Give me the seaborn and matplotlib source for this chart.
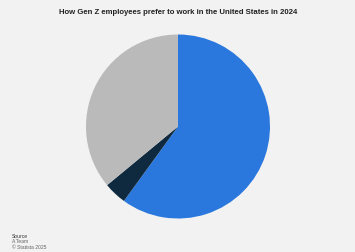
import matplotlib
matplotlib.use("Agg")
import matplotlib.pyplot as plt
import seaborn as sns

# Data
categories = ["Hybrid", "Fully remote", "Fully on-site"]
shares = [60, 4, 36]
colors = ["#2a77dd", "#0f2a3f", "#bababa"]

title = "How Gen Z employees prefer to work in the United States in 2024"
source_lines = ["Source", "A.Team", "© Statista 2025"]

sns.set_theme(style="white")
plt.rcParams['font.family'] = ['Liberation Sans', 'DejaVu Sans']

bg = "#f2f2f2"
fig = plt.figure(figsize=(3.55, 2.53), dpi=100, facecolor=bg)
cx, cy, r = 178, 127.5, 92
W, H = 355, 253
ax = fig.add_axes([(cx - r) / W, (H - cy - r) / H, 2 * r / W, 2 * r / H])
ax.set_facecolor(bg)
ax.pie(shares, colors=colors, startangle=90, counterclock=False,
       radius=1, wedgeprops=dict(linewidth=0))
ax.set_xlim(-1, 1)
ax.set_ylim(-1, 1)
ax.set_aspect("equal")
ax.axis("off")

fig.text(178 / W, 1 - 13 / H, title, ha="center", va="center",
         fontsize=5.6, fontweight="bold", color="#222222")
for i, line in enumerate(source_lines):
    fig.text(12 / W, 1 - (236 + i * 6) / H, line, ha="left", va="center",
             fontsize=3.6, color="#333333" if i == 0 else "#666666")

fig.savefig("out.png", dpi=100, facecolor=bg)
